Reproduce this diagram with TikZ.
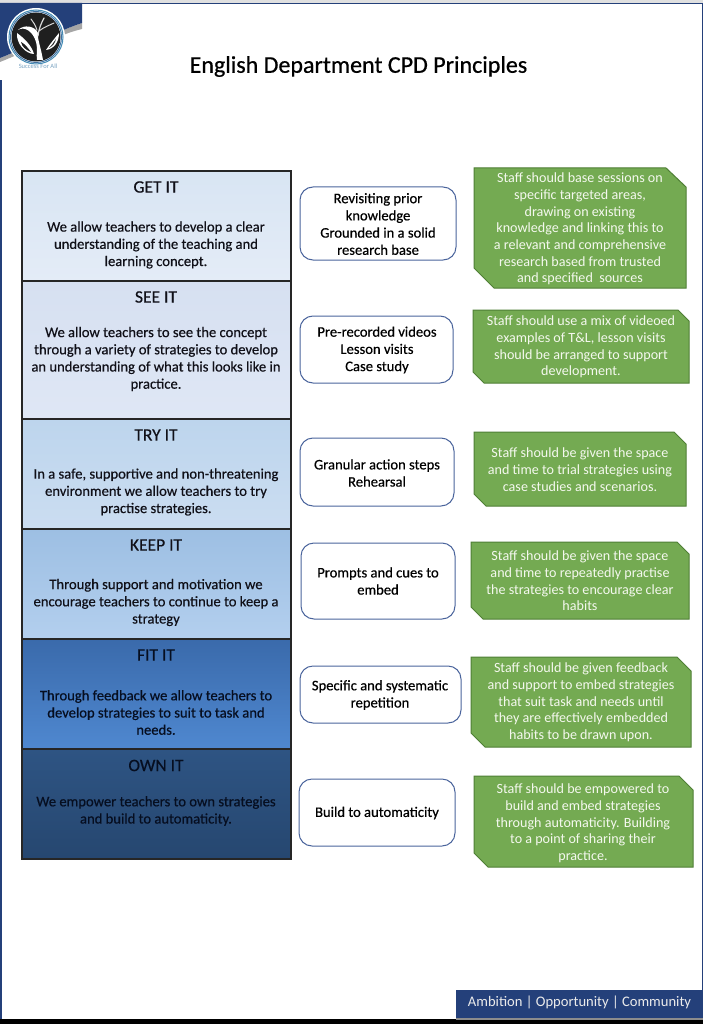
\documentclass[tikz,border=0pt]{standalone}
\usepackage{fontspec}
\setmainfont{Carlito}
\newfontfamily\semib{Carlito}[FakeBold=0.45]
\newfontfamily\titleb{Carlito}[FakeBold=0.6]
\usetikzlibrary{shadings}
\definecolor{navy}{HTML}{24407A}
\definecolor{gfill}{HTML}{74AA52}
\definecolor{gline}{HTML}{4F7F35}
\definecolor{rline}{HTML}{4A649C}
\definecolor{gtext}{HTML}{F4F8EE}
\definecolor{ink}{HTML}{101018}
\definecolor{deepink}{HTML}{060E20}
\definecolor{ra}{HTML}{D8E5F3}\definecolor{rb}{HTML}{E4ECF7}
\definecolor{rc}{HTML}{D6E0F1}\definecolor{rd}{HTML}{DFE7F5}
\definecolor{re}{HTML}{BDD5ED}\definecolor{rf}{HTML}{CBDDF1}
\definecolor{rg}{HTML}{9DBFE3}\definecolor{rh}{HTML}{B3CFEE}
\definecolor{ri}{HTML}{3A6AAB}\definecolor{rj}{HTML}{4F88D0}
\definecolor{rk}{HTML}{2E5483}\definecolor{rl}{HTML}{3A6898}\definecolor{rm}{HTML}{264770}
\tikzset{
  x=1pt,y=-1pt,
  rowtitle/.style={font=\semib\fontsize{17.5}{20}\selectfont,text=ink,align=center,inner sep=0},
  rowtext/.style={font=\semib\fontsize{14.6}{17.2}\selectfont,text=ink,align=center,inner sep=0},
  rowbox/.style={draw=black!85,line width=1.1pt},
  pill/.style={draw=rline,line width=1pt,fill=white,rounded corners=13pt},
  pilltext/.style={font=\semib\fontsize{14.6}{17.2}\selectfont,text=black,align=center,inner sep=0},
  snip/.style={draw=gline,line width=1pt,fill=gfill},
  snipfont/.style={font=\fontsize{14.1}{16.7}\selectfont,text=gtext,align=center,inner sep=0},
}
\begin{document}
\begin{tikzpicture}
\useasboundingbox (0,0) rectangle (703,1024);
\fill[white] (0,0) rectangle (703,1024);
% page frame
\fill[black!12] (0,0) rectangle (703,3);
\fill[navy] (0,3) rectangle (703,4.5);
\fill[navy] (701.5,3) rectangle (703,1020);
\fill[navy] (0,80) rectangle (1.5,1020);
% corner
\fill[black!35] (0,58) .. controls (30,46) and (60,30) .. (82,23) -- (82,29) .. controls (60,34) and (30,50) .. (0,62) -- cycle;
\fill[navy] (0,3) -- (82,3) -- (82,23) .. controls (60,30) and (30,46) .. (0,58) -- cycle;
% logo
\fill[white] (36,37) circle (29);
\draw[cyan!50!navy,line width=1pt] (36,37) circle (27);
\fill[black!88] (36,37) circle (24.5);
\draw[cyan!60!blue!70!black,line width=1pt] (36,37) circle (25.5);
\begin{scope}
\clip (36,37) circle (24.5);
\fill[white] (18,30) .. controls (24,26) and (33,31) .. (36,42) .. controls (38,50) and (36,54) .. (37,60) -- (43,60) .. controls (41,48) and (37,38) .. (38,33) .. controls (35,26) and (24,24) .. (18,30) -- cycle;
\draw[white!85!black,line width=1.2pt,line cap=round] (38,36) .. controls (39,28) and (41,24) .. (44,18);
\draw[white!85!black,line width=1pt,line cap=round] (39,31) .. controls (44,27) and (50,25) .. (54,23);
\draw[white!85!black,line width=1pt,line cap=round] (37,30) .. controls (35,24) and (33,22) .. (31,19);
\fill[white] (17,33) .. controls (24,38) and (32,46) .. (34,54) .. controls (26,54) and (16,44) .. (17,33) -- cycle;
\fill[black!88] (21,42) .. controls (25,44) and (28,48) .. (31,52) .. controls (26,50) and (22,47) .. (21,42) -- cycle;
\fill[white] (46,50) .. controls (50,44) and (55,38) .. (59,33) .. controls (59,42) and (54,49) .. (46,50) -- cycle;
\fill[black!88] (49,48) .. controls (52,45) and (54,42) .. (56,39) .. controls (55,43) and (53,46) .. (49,48) -- cycle;
\end{scope}
\node[font=\fontsize{6.5}{8}\selectfont,text=cyan!40!navy!70,inner sep=0] (logotext) at (38,66.5) {Success For All};
% title
\node[font=\titleb\fontsize{24}{28}\selectfont,text=black,inner sep=0] (title) at (358.5,66.5) {English Department CPD Principles};
% table rows
\draw[rowbox,top color=ra,bottom color=rb] (22,171) rectangle (291,281);
\draw[rowbox,top color=rc,bottom color=rd] (22,281) rectangle (291,419);
\draw[rowbox,top color=re,bottom color=rf] (22,419) rectangle (291,529);
\draw[rowbox,top color=rg,bottom color=rh] (22,529) rectangle (291,639);
\draw[rowbox,top color=ri,bottom color=rj] (22,639) rectangle (291,749);
\draw[rowbox,top color=rk,middle color=rl,bottom color=rm] (22,749) rectangle (291,859);
% row text
\node[rowtitle] (t1) at (156,187) {GET IT};
\node[rowtext] (d1) at (156,245) {We allow teachers to develop a clear\\understanding of the teaching and\\learning concept.};
\node[rowtitle] (t2) at (156,297) {SEE IT};
\node[rowtext] (d2) at (156,359) {We allow teachers to see the concept\\through a variety of strategies to develop\\an understanding of what this looks like in\\practice.};
\node[rowtitle] (t3) at (156,435) {TRY IT};
\node[rowtext] (d3) at (156,492) {In a safe, supportive and non-threatening\\environment we allow teachers to try\\practise strategies.};
\node[rowtitle] (t4) at (156,545) {KEEP IT};
\node[rowtext] (d4) at (156,602.5) {Through support and motivation we\\encourage teachers to continue to keep a\\strategy};
\node[rowtitle,text=deepink] (t5) at (156,655) {FIT IT};
\node[rowtext,text=deepink] (d5) at (156,712.5) {Through feedback we allow teachers to\\develop strategies to suit to task and\\needs.};
\node[rowtitle,text=deepink] (t6) at (156,765.5) {OWN IT};
\node[rowtext,text=deepink] (d6) at (156,811) {We empower teachers to own strategies\\and build to automaticity.};
% middle boxes
\draw[pill] (300,187) rectangle (456,260);
\node[pilltext] (m1) at (378,224) {Revisiting prior\\knowledge\\Grounded in a solid\\research base};
\draw[pill] (300,316) rectangle (453,383);
\node[pilltext] (m2) at (377,350) {Pre-recorded videos\\Lesson visits\\Case study};
\draw[pill] (300,438) rectangle (454,506);
\node[pilltext] (m3) at (377,473) {Granular action steps\\Rehearsal};
\draw[pill] (301,543) rectangle (455,619);
\node[pilltext] (m4) at (378,581) {Prompts and cues to\\embed};
\draw[pill] (300,666) rectangle (461,723);
\node[pilltext] (m5) at (380,695) {Specific and systematic\\repetition};
\draw[pill] (299,779) rectangle (455,846);
\node[pilltext] (m6) at (377,813) {Build to automaticity};
% green boxes
\draw[snip] (474,168) -- (666,168) -- (686,187) -- (686,288) -- (494,288) -- (474,268) -- cycle;
\node[snipfont] (g1) at (580,229) {Staff should base sessions on\\specific targeted areas,\\drawing on existing\\knowledge and linking this to\\a relevant and comprehensive\\research based from trusted\\and specified~ sources};
\draw[snip] (473,310) -- (678,310) -- (689,321) -- (689,383) -- (484,383) -- (473,372) -- cycle;
\node[snipfont] (g2) at (581,347) {Staff should use a mix of videoed\\examples of T\&L, lesson visits\\should be arranged to support\\development.};
\draw[snip] (474,432) -- (674,432) -- (686,444) -- (686,506) -- (486,506) -- (474,494) -- cycle;
\node[snipfont] (g3) at (580,469.5) {Staff should be given the space\\and time to trial strategies using\\case studies and scenarios.};
\draw[snip] (471,542) -- (677,542) -- (689,554) -- (689,619) -- (483,619) -- (471,607) -- cycle;
\node[snipfont] (g4) at (580,581) {Staff should be given the space\\and time to repeatedly practise\\the strategies to encourage clear\\habits};
\draw[snip] (471,657) -- (677,657) -- (691,671) -- (691,747) -- (485,747) -- (471,733) -- cycle;
\node[snipfont] (g5) at (581,702.5) {Staff should be given feedback\\and support to embed strategies\\that suit task and needs until\\they are effectively embedded\\habits to be drawn upon.};
\draw[snip] (474,776) -- (679,776) -- (693,790) -- (693,867) -- (488,867) -- (474,853) -- cycle;
\node[snipfont] (g6) at (583,823.5) {Staff should be empowered to\\build and embed strategies\\through automaticity. Building\\to a point of sharing their\\practice.};
% footer
\fill[black] (0,1019) rectangle (703,1024);
\fill[black!45] (456,1018) rectangle (703,1020);
\fill[navy] (456,990) rectangle (703,1018);
\node[font=\fontsize{14.6}{18}\selectfont,text=black!8,inner sep=0] (foot) at (579.5,1002) {Ambition | Opportunity | Community};
\end{tikzpicture}
\end{document}
